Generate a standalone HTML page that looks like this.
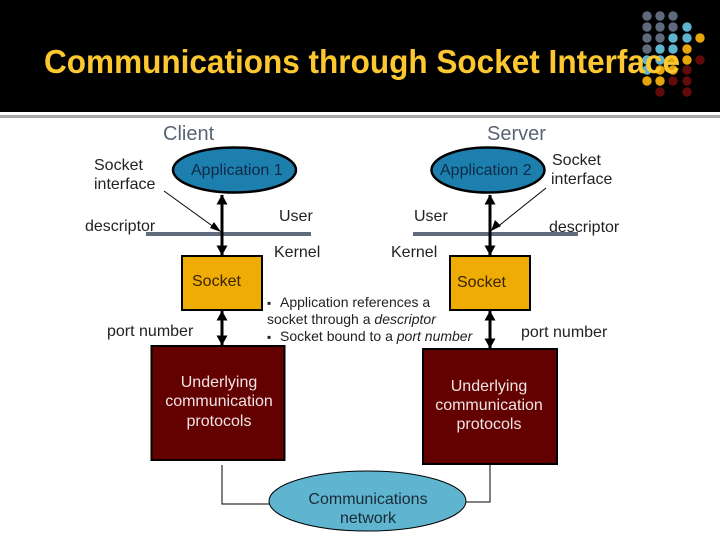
<!DOCTYPE html>
<html>
<head>
<meta charset="utf-8">
<style>
html,body{margin:0;padding:0;background:#fff}
svg{display:block}
text{font-family:"Liberation Sans",sans-serif}
</style>
</head>
<body>
<svg width="720" height="540" viewBox="0 0 720 540" xmlns="http://www.w3.org/2000/svg">
<defs>
<marker id="a" viewBox="0 0 10 10" refX="9.500" refY="5" markerWidth="10" markerHeight="11" orient="auto-start-reverse" markerUnits="userSpaceOnUse" preserveAspectRatio="none"><path d="M0 0L10 5L0 10Z" fill="#000"/></marker>
</defs>
<rect width="720" height="540" fill="#fff"/>
<rect width="720" height="112" fill="#000"/>
<rect x="0" y="115" width="720" height="3" fill="#a8a8a8"/>
<g fill="#5f6a7d">
<circle cx="647" cy="16" r="4.7"/><circle cx="660" cy="16" r="4.7"/><circle cx="673" cy="16" r="4.7"/>
<circle cx="647" cy="27" r="4.7"/><circle cx="660" cy="27" r="4.7"/><circle cx="673" cy="27" r="4.7"/>
<circle cx="647" cy="38" r="4.7"/><circle cx="660" cy="38" r="4.7"/>
<circle cx="647" cy="49" r="4.7"/>
</g>
<g fill="#5fb4cf">
<circle cx="687" cy="27" r="4.7"/>
<circle cx="673" cy="38" r="4.7"/><circle cx="687" cy="38" r="4.7"/>
<circle cx="660" cy="49" r="4.7"/><circle cx="673" cy="49" r="4.7"/>
<circle cx="647" cy="60" r="4.7"/><circle cx="660" cy="60" r="4.7"/>
<circle cx="647" cy="70" r="4.7"/>
</g>
<g fill="#e8a50a">
<circle cx="700" cy="38" r="4.7"/>
<circle cx="687" cy="49" r="4.7"/>
<circle cx="673" cy="60" r="4.7"/><circle cx="687" cy="60" r="4.7"/>
<circle cx="660" cy="70" r="4.7"/><circle cx="673" cy="70" r="4.7"/>
<circle cx="647" cy="81" r="4.7"/><circle cx="660" cy="81" r="4.7"/>
</g>
<g fill="#630a0a">
<circle cx="700" cy="60" r="4.7"/>
<circle cx="687" cy="70" r="4.7"/>
<circle cx="673" cy="81" r="4.7"/><circle cx="687" cy="81" r="4.7"/>
<circle cx="660" cy="92" r="4.7"/><circle cx="687" cy="92" r="4.7"/>
</g>
<text x="44" y="73" font-size="33" font-weight="bold" fill="#fdc82f" textLength="636" lengthAdjust="spacingAndGlyphs">Communications through Socket Interface</text>

<ellipse cx="234.500" cy="170" rx="61.500" ry="22.500" fill="#1d7fad" stroke="#000" stroke-width="2.500"/>
<ellipse cx="488" cy="170" rx="56.500" ry="22.500" fill="#1d7fad" stroke="#000" stroke-width="2.500"/>
<rect x="146" y="232" width="165" height="4" fill="#5f6a7d"/>
<rect x="413" y="232" width="165" height="4" fill="#5f6a7d"/>
<rect x="182" y="256" width="80" height="54" fill="#eeac05" stroke="#000" stroke-width="2"/>
<rect x="450" y="256" width="80" height="54" fill="#eeac05" stroke="#000" stroke-width="2"/>
<rect x="151.500" y="346" width="133" height="114" fill="#630000" stroke="#000" stroke-width="2"/>
<rect x="423" y="349" width="134" height="115" fill="#630000" stroke="#000" stroke-width="2"/>

<g stroke="#000" stroke-width="3" fill="none">
<line x1="222" y1="195" x2="222" y2="255" marker-start="url(#a)" marker-end="url(#a)"/>
<line x1="490" y1="195" x2="490" y2="255" marker-start="url(#a)" marker-end="url(#a)"/>
<line x1="222" y1="311" x2="222" y2="345" marker-start="url(#a)" marker-end="url(#a)"/>
<line x1="490" y1="311" x2="490" y2="348" marker-start="url(#a)" marker-end="url(#a)"/>
</g>
<g stroke="#000" stroke-width="1" fill="none">
<line x1="164" y1="191" x2="218" y2="230"/>
<line x1="546" y1="188" x2="496" y2="228"/>
<polyline points="222,465 222,504 270,504"/>
<polyline points="490,465 490,502 465,502"/>
</g>
<path d="M221 232L210 228L214 222Z" fill="#000"/>
<path d="M491 231L495 220L501 226Z" fill="#000"/>
<ellipse cx="367.500" cy="501" rx="98.500" ry="30" fill="#5fb4cf" stroke="#000" stroke-width="1"/>

<g font-size="20" fill="#5a6475">
<text x="163" y="140">Client</text>
<text x="487" y="140">Server</text>
</g>
<g font-size="16" fill="#222">
<text x="94" y="170">Socket</text>
<text x="94" y="189">interface</text>
<text x="552" y="165">Socket</text>
<text x="551" y="184">interface</text>
<text x="85" y="231">descriptor</text>
<text x="549" y="232">descriptor</text>
<text x="279" y="221">User</text>
<text x="414" y="221">User</text>
<text x="274" y="257">Kernel</text>
<text x="391" y="257">Kernel</text>
<text x="107" y="336">port number</text>
<text x="521" y="337">port number</text>
</g>
<g font-size="16" fill="#0d2a4a">
<text x="191" y="175">Application 1</text>
<text x="440" y="175">Application 2</text>
</g>
<g font-size="16" fill="#3a2400">
<text x="192" y="286">Socket</text>
<text x="457" y="287">Socket</text>
</g>
<g font-size="16" fill="#f2e4e4" text-anchor="middle">
<text x="219" y="387">Underlying</text>
<text x="219" y="406">communication</text>
<text x="219" y="426">protocols</text>
<text x="489" y="391">Underlying</text>
<text x="489" y="410">communication</text>
<text x="489" y="429">protocols</text>
</g>
<g font-size="16" fill="#1a2a35" text-anchor="middle">
<text x="368" y="504">Communications</text>
<text x="368" y="523">network</text>
</g>
<g font-size="14" fill="#222">
<text x="267" y="307" font-size="12">▪</text>
<text x="280" y="307">Application references a</text>
<text x="267" y="324">socket through a <tspan font-style="italic">descriptor</tspan></text>
<text x="267" y="341" font-size="12">▪</text>
<text x="280" y="341">Socket bound to a <tspan font-style="italic">port number</tspan></text>
</g>
</svg>
</body>
</html>
